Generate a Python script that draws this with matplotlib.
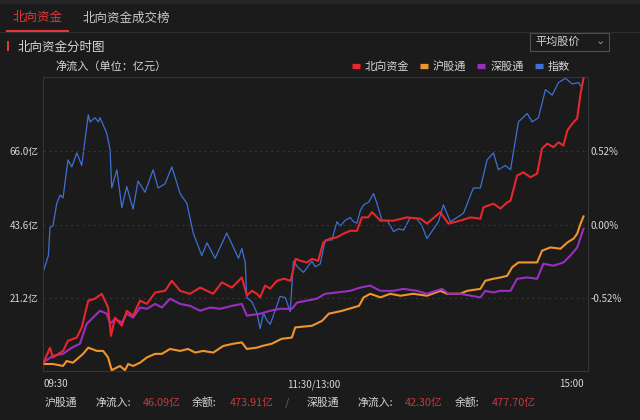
import numpy as np
import matplotlib
matplotlib.use('Agg')
import matplotlib.pyplot as plt
from matplotlib.patches import Rectangle
from matplotlib.lines import Line2D

plt.rcParams['font.family'] = ['Noto Sans CJK SC', 'DejaVu Sans']

# minutes since 09:30 (trading minutes, 0..240)
north_t = [0, 3.1, 4.4, 8.9, 11.1, 15.0, 17.2, 20.1, 23.1, 26.1, 28.9, 30.2, 32.0, 35.0, 37.2,
           40.0, 43.1, 46.1, 49.8, 54.2, 57.2, 60.9, 65.3, 69.8, 75.6, 79.4, 83.9, 88.3, 90.5,
           92.8, 95.0, 96.4, 98.6, 100.9, 103.9, 106.9, 110.0, 112.2, 114.4, 117.2, 119.4,
           122.2, 124.4, 127.4, 130.5, 133.4, 136.4, 139.4, 141.6, 144.4, 146.1, 149.8, 155.6,
           161.6, 167.6, 170.5, 176.4, 180.0, 185.3, 189.8, 194.2, 195.6, 200.0, 203.1, 206.1,
           207.6, 210.5, 213.3, 216.4, 219.4, 221.6, 223.9, 226.7, 228.9, 231.1, 232.8, 235.6,
           237.2, 238.7, 240]
north_v = [0.9, 5.9, 2.9, 4.9, 8.0, 9.0, 12.1, 20.3, 20.9, 22.4, 18.2, 9.5, 15.1, 12.6, 17.2,
           15.7, 20.3, 19.3, 22.8, 23.3, 26.4, 23.3, 22.4, 24.3, 22.4, 25.9, 24.3, 27.4, 21.9,
           23.3, 22.4, 21.3, 24.9, 24.0, 26.4, 27.0, 26.4, 33.1, 32.5, 32.0, 33.1,
           32.5, 38.1, 39.3, 39.7, 40.8, 41.7, 41.7, 45.8, 45.8, 47.4, 44.8, 44.8,
           45.8, 45.4, 43.9, 47.4, 43.9, 44.8, 45.8, 45.4, 48.9, 50.0, 48.5, 50.4,
           50.9, 58.6, 59.6, 58.1, 59.2, 66.9, 68.4, 67.3, 68.8, 67.8, 72.4, 75.0,
           76.1, 83.8, 88.39]

sh_t = [0, 4.4, 8.9, 10.5, 13.3, 17.8, 20.1, 23.9, 26.7, 28.9, 30.5, 34.2, 36.4, 37.8, 40.0,
        43.1, 46.1, 49.8, 52.8, 56.4, 60.9, 64.4, 67.6, 71.1, 75.6, 80.0, 84.4, 88.3, 90.5,
        95.0, 97.2, 101.6, 105.9, 110.5, 112.0, 119.4, 123.9, 126.9, 132.9, 140.3, 142.4,
        145.3, 149.8, 154.2, 158.7, 164.4, 170.5, 176.4, 179.4, 185.3, 188.3,
        194.2, 196.4, 200.0, 203.1, 206.1, 208.3, 211.1, 215.0, 219.4, 221.6, 225.3, 229.8,
        232.8, 235.6, 237.2, 238.7, 240]
sh_v = [0.9, 0.9, 0.3, 1.8, 1.3, 4.0, 5.9, 4.9, 4.9, 2.9, -1.0, 0.3, -1.0, 0.9, 0.3,
        1.3, 2.9, 4.0, 4.0, 5.5, 4.9, 5.5, 4.4, 4.9, 4.4, 6.4, 7.1, 7.5, 5.5,
        5.9, 6.4, 7.1, 8.6, 9.0, 12.1, 12.6, 14.1, 16.3, 17.2, 18.7, 21.3,
        22.4, 21.3, 22.4, 21.8, 22.4, 21.8, 23.3, 22.4, 22.4, 23.3,
        23.9, 26.4, 27.0, 27.4, 27.9, 30.5, 32.0, 32.0, 32.0, 35.6, 36.6, 36.2,
        38.1, 39.3, 40.8, 43.9, 46.09]

sz_t = [0, 4.4, 8.9, 12.8, 16.4, 19.4, 22.2, 25.3, 28.3, 29.8, 32.0, 35.0, 37.2, 40.0, 43.1,
        46.1, 49.8, 52.8, 56.4, 60.9, 65.3, 69.8, 74.2, 78.7, 83.9, 88.3, 90.5, 96.4, 100.9,
        105.3, 110.5, 112.8, 117.2, 121.6, 125.3, 130.5, 136.4, 140.9, 145.3, 149.8, 155.6,
        160.0, 166.1, 170.5, 177.2, 180.0, 185.3, 194.2, 196.4, 200.0, 203.1, 207.6, 210.5,
        215.0, 219.4, 222.2, 226.7, 231.1, 234.2, 237.2, 240]
sz_v = [1.3, 3.4, 4.0, 5.9, 7.1, 13.2, 15.1, 17.2, 16.3, 13.2, 14.7, 13.6, 16.3, 15.1, 18.2,
        17.8, 19.3, 18.2, 20.9, 19.3, 18.7, 17.2, 18.2, 17.8, 18.7, 19.3, 15.7, 16.3, 17.2,
        17.8, 17.8, 19.7, 20.3, 20.9, 22.4, 22.8, 23.3, 24.3, 24.9, 23.3, 23.3,
        23.9, 23.3, 22.4, 23.9, 22.4, 22.4, 21.3, 23.3, 22.8, 23.3, 23.3, 27.0,
        27.4, 27.0, 31.6, 31.0, 32.0, 34.1, 36.6, 42.30]

idx_t = [0, 2.4, 3.1, 4.4, 6.1, 7.6, 8.9, 11.1, 12.8, 15.0, 17.2, 20.1, 20.9, 23.1, 24.6,
         25.3, 28.3, 29.8, 30.5, 32.8, 35.0, 37.2, 40.0, 42.2, 45.3, 48.9, 51.1, 54.2, 57.2,
         60.9, 63.9, 66.7, 70.5, 72.8, 76.4, 81.6, 86.8, 88.3, 89.8, 90.5, 92.8, 95.0, 96.4,
         97.9, 99.4, 100.9, 103.1, 105.3, 107.6, 109.8, 111.2, 113.5, 115.7, 119.4, 120.9,
         123.1, 125.3, 128.3, 130.5, 132.0, 134.2, 136.4, 137.9, 139.4, 140.9, 142.4, 144.6,
         146.8, 148.3, 150.5, 152.8, 155.7, 157.9, 160.1, 163.1, 166.1, 168.3, 170.5,
         175.6, 177.8, 180.9, 186.7, 191.1, 194.2, 197.2, 200.0, 202.2, 205.3, 207.6, 211.1,
         215.0, 217.2, 220.0, 223.1, 226.1, 228.9, 232.0, 235.0, 237.8, 239.4]
idx_pct = [-0.34, -0.22, -0.02, -0.01, 0.15, 0.21, 0.19, 0.46, 0.41, 0.51, 0.42, 0.78, 0.73, 0.76, 0.73,
           0.76, 0.65, 0.53, 0.26, 0.39, 0.12, 0.27, 0.11, 0.31, 0.23, 0.39, 0.26, 0.29, 0.41,
           0.22, 0.15, -0.06, -0.22, -0.13, -0.24, -0.06, -0.24, -0.17, -0.27, -0.52, -0.55, -0.63, -0.74,
           -0.63, -0.68, -0.71, -0.61, -0.51, -0.52, -0.62, -0.26, -0.31, -0.34, -0.26, -0.30,
           -0.28, -0.11, -0.11, 0.02, -0.01, 0.03, 0.05, 0.02, 0.01, 0.10, 0.14, 0.16,
           0.22, 0.15, 0.03, 0.03, -0.05, -0.03, -0.04, 0.05, 0.04, -0.01, -0.10,
           0.02, 0.14, 0.02, 0.08, 0.26, 0.26, 0.46, 0.51, 0.39, 0.42, 0.39, 0.73,
           0.79, 0.73, 0.76, 0.96, 0.92, 1.01, 1.04, 1.00, 1.01, 0.97]

left_ticks = [21.2, 43.6, 66.0]
right_ticks = [-0.52, 0.00, 0.52]
x_ticks = [0, 120, 240]
x_labels = ['09:30', '11:30/13:00', '15:00']

BG = '#1b1b1c'
TXT = '#d6d6d6'
NUM_RED = '#c8393c'
C_NORTH = '#e8262c'
C_SH = '#f0952a'
C_SZ = '#9a2fbf'
C_IDX = '#3f6fd6'
BORDER = '#353537'

W, H = 640, 420
fig = plt.figure(figsize=(6.4, 4.2), dpi=100, facecolor=BG)


def px(x, y):
    return x / W, 1 - y / H


# top tab strip
fig.patches.append(Rectangle((0, 1 - 4 / H), 1, 4 / H, transform=fig.transFigure,
                             facecolor='#262628', edgecolor='none'))
fig.text(*px(13, 18), '北向资金', color='#e0383c', fontsize=9, va='center', ha='left')
fig.text(*px(83, 18), '北向资金成交榜', color='#c8c8c8', fontsize=9, va='center', ha='left')
fig.lines.append(Line2D([0, 1], [1 - 32 / H] * 2, transform=fig.transFigure, color='#2e2e30', lw=0.8))
fig.lines.append(Line2D([7 / W, 68 / W], [1 - 30.5 / H] * 2, transform=fig.transFigure,
                        color='#e0383c', lw=1.5))

# sub title
fig.patches.append(Rectangle(px(6.5, 51), 2.5 / W, 10 / H, transform=fig.transFigure,
                             facecolor='#e0383c', edgecolor='none'))
fig.text(*px(18, 47), '北向资金分时图', color=TXT, fontsize=9, va='center', ha='left')
fig.text(*px(55, 66), '净流入（单位：亿元）', color=TXT, fontsize=8, va='center', ha='left')

# dropdown
fig.patches.append(Rectangle(px(530, 50.5), 79 / W, 17.5 / H, transform=fig.transFigure,
                             facecolor=BG, edgecolor='#505052', lw=0.8))
fig.text(*px(535, 41.5), '平均股价', color=TXT, fontsize=8, va='center', ha='left')
fig.text(*px(600, 41.5), '⌄', color='#9a9a9a', fontsize=8, va='center', ha='center',
         family=['DejaVu Sans'])

# main axes
ax = fig.add_axes([43 / W, 1 - 371 / H, 545 / W, 294 / H])
ax.set_facecolor(BG)
ax.plot(sh_t, sh_v, color=C_SH, lw=1.5, zorder=3)
ax.plot(sz_t, sz_v, color=C_SZ, lw=1.5, zorder=3)
ax.plot(north_t, north_v, color=C_NORTH, lw=1.5, zorder=4)

ymin, ymax = -1.25, 88.8
ax.set_ylim(ymin, ymax)
ax.set_xlim(0, 242)
ax.set_yticks(left_ticks)
ax.set_yticklabels([f'{v:.1f}亿' for v in left_ticks])
ax.set_xticks(x_ticks)
ax.set_xticklabels(x_labels)
xl = ax.get_xticklabels()
xl[0].set_ha('left')
xl[2].set_ha('right')
ax.tick_params(axis='both', length=0, colors=TXT, labelsize=7)
ax.tick_params(axis='y', pad=3)
ax.tick_params(axis='x', pad=6)
ax.grid(axis='y', color='#333335', lw=0.8, ls=(0, (2, 3)))
for s in ax.spines.values():
    s.set_color(BORDER)
    s.set_linewidth(0.8)

# index on the right scale, same pixel mapping: 43.6亿 <-> 0.00%
ax2 = ax.twinx()
scale = 0.52 / 22.4
ax2.set_ylim((ymin - 43.6) * scale, (ymax - 43.6) * scale)
ax2.plot(idx_t, idx_pct, color=C_IDX, lw=0.9, zorder=2)
ax2.set_yticks(right_ticks)
ax2.set_yticklabels([f'{v:.2f}%' for v in right_ticks])
ax2.tick_params(axis='y', length=0, colors=TXT, labelsize=7, pad=2)
for s in ax2.spines.values():
    s.set_visible(False)
ax.set_zorder(ax2.get_zorder() + 1)
ax.patch.set_visible(False)
fig.patches.append(Rectangle((43 / W, 1 - 371 / H), 545 / W, 294 / H, transform=fig.transFigure,
                             facecolor=BG, edgecolor='none', zorder=-1))

# legend
handles = [Line2D([], [], color=c, lw=3.8, solid_capstyle='butt')
           for c in (C_NORTH, C_SH, C_SZ, C_IDX)]
leg = fig.legend(handles, ['北向资金', '沪股通', '深股通', '指数'], ncol=4,
                 loc='center left', bbox_to_anchor=px(352, 66.5), frameon=False,
                 fontsize=8, handlelength=0.72, handletextpad=0.42, columnspacing=1.0,
                 borderaxespad=0, borderpad=0)
for t in leg.get_texts():
    t.set_color(TXT)

# bottom summary
y_b = 403
items = [(45, '沪股通', TXT), (95, '净流入:', TXT), (143, '46.09亿', NUM_RED),
         (192, '余额:', TXT), (230, '473.91亿', NUM_RED), (285, '/', '#6a6a6a'),
         (307, '深股通', TXT), (357, '净流入:', TXT), (405, '42.30亿', NUM_RED),
         (455, '余额:', TXT), (492, '477.70亿', NUM_RED)]
for x, s, c in items:
    fig.text(*px(x, y_b), s, color=c, fontsize=7.8, va='center', ha='left')

fig.savefig('out.png', dpi=100, facecolor=BG)
